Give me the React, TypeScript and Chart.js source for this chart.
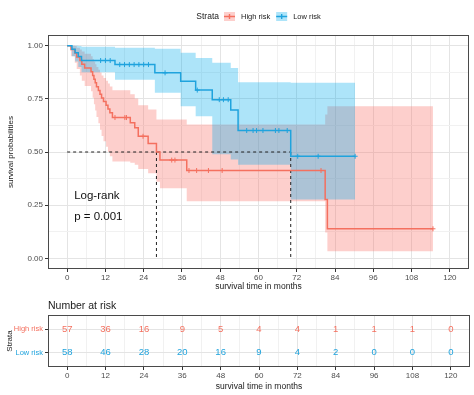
import React, { useEffect, useRef } from "react";
import { Chart, registerables } from "chart.js";

Chart.register(...registerables);

const FONT = '"Liberation Sans", Arial, sans-serif';

// ---------- data ----------
const strata = ["High risk", "Low risk"];
const lineColors = ["#F4705F", "#1FA3DD"];
const bandColors = ["rgba(248,118,109,0.35)", "rgba(0,170,235,0.32)"];

const highTime = [0, 1.2, 2.4, 3.0, 4.0, 4.6, 5.5, 7.5, 8.0, 8.4, 8.8, 9.2, 9.8, 10.3, 10.8, 11.4, 12.2, 12.8, 13.4, 14.2, 19.8, 21.2, 22.3, 25.4, 28.0, 29.1, 37.5, 80.9, 81.6, 114.7];
const highSurv = [1.0, 0.982, 0.965, 0.947, 0.93, 0.912, 0.895, 0.877, 0.86, 0.842, 0.825, 0.807, 0.789, 0.772, 0.754, 0.737, 0.72, 0.702, 0.684, 0.662, 0.638, 0.614, 0.574, 0.54, 0.5, 0.462, 0.413, 0.277, 0.139, 0.139];
const highUpper = [1.0, 1.0, 0.998, 0.99, 0.982, 0.972, 0.962, 0.95, 0.937, 0.925, 0.912, 0.9, 0.887, 0.874, 0.86, 0.848, 0.835, 0.822, 0.808, 0.79, 0.772, 0.752, 0.72, 0.7, 0.653, 0.653, 0.629, 0.676, 0.715, 0.715];
const highLower = [1.0, 0.95, 0.92, 0.89, 0.86, 0.835, 0.81, 0.785, 0.755, 0.725, 0.695, 0.665, 0.635, 0.605, 0.575, 0.55, 0.525, 0.5, 0.48, 0.455, 0.45, 0.44, 0.42, 0.4, 0.36, 0.33, 0.269, 0.122, 0.034, 0.034];
const highCensor = [15.0, 18.1, 18.6, 23.8, 32.8, 33.8, 38.2, 40.6, 44.3, 48.6, 79.6, 114.7];

const lowTime = [0, 1.5, 2.5, 3.5, 4.5, 15.0, 27.5, 35.6, 40.3, 45.5, 51.3, 53.6, 70.1, 90.3];
const lowSurv = [1.0, 0.983, 0.966, 0.949, 0.93, 0.911, 0.872, 0.832, 0.791, 0.746, 0.697, 0.601, 0.48, 0.48];
const lowUpper = [1.0, 1.0, 1.0, 0.998, 0.995, 0.99, 0.985, 0.966, 0.942, 0.919, 0.895, 0.828, 0.825, 0.825];
const lowLower = [1.0, 0.95, 0.925, 0.9, 0.875, 0.84, 0.778, 0.715, 0.668, 0.49, 0.465, 0.44, 0.277, 0.277];
const lowCensor = [10.5, 12.0, 13.5, 16.5, 18.0, 19.5, 21.0, 22.5, 24.0, 25.5, 30.7, 40.8, 47.7, 49.0, 50.5, 56.3, 58.3, 59.4, 61.4, 65.3, 66.4, 69.0, 72.3, 78.7, 90.3];

const riskTimes = [0, 12, 24, 36, 48, 60, 72, 84, 96, 108, 120];
const riskHigh = [57, 36, 16, 9, 5, 4, 4, 1, 1, 1, 0];
const riskLow = [58, 46, 28, 20, 16, 9, 4, 2, 0, 0, 0];

const xTicks = [0, 12, 24, 36, 48, 60, 72, 84, 96, 108, 120];
const yTicks = [0, 0.25, 0.5, 0.75, 1];
const testLines = ["Log-rank", "p = 0.001"];
const testAt = { x: 2.2, y: [0.296, 0.197] };

// ---------- helpers ----------
const GRID_MAJOR = "#E4E4E4";
const GRID_MINOR = "#F1F1F1";
const TICK_MARK = "#333333";
const TICK_TEXT = "#4D4D4D";

const withMinor = (arr: number[]) => {
  const out: number[] = [];
  arr.forEach((v, i) => {
    out.push(v);
    if (i < arr.length - 1) out.push((v + arr[i + 1]) / 2);
  });
  return out;
};
const xAll = withMinor(xTicks);
const yAll = withMinor(yTicks);
const isIn = (arr: number[], v: any) => typeof v === "number" && arr.some((a) => Math.abs(a - v) < 1e-6);

const pts = (t: number[], v: number[]) => t.map((x, i) => ({ x, y: v[i] }));
const stepAt = (t: number[], v: number[], x: number) => {
  let s = v[0];
  for (let i = 0; i < t.length; i++) if (t[i] <= x) s = v[i];
  return s;
};
const medianOf = (t: number[], v: number[]) => {
  for (let i = 0; i < t.length; i++) if (v[i] <= 0.5) return t[i];
  return null;
};

const groups = [
  { time: highTime, surv: highSurv, upper: highUpper, lower: highLower, censor: highCensor },
  { time: lowTime, surv: lowSurv, upper: lowUpper, lower: lowLower, censor: lowCensor },
];
const riskCounts = [riskHigh, riskLow];

const xScaleBase = (height: number, titlePadBottom: number) => ({
  type: "linear",
  min: -6,
  max: 126,
  afterBuildTicks: (s: any) => {
    s.ticks = xAll.map((v) => ({ value: v }));
  },
  afterFit: (s: any) => {
    s.height = height;
  },
  border: { display: false },
  grid: {
    color: (c: any) => (isIn(xTicks, c.tick && c.tick.value) ? GRID_MAJOR : GRID_MINOR),
    lineWidth: 1,
    tickLength: 3,
    tickColor: (c: any) => (isIn(xTicks, c.tick && c.tick.value) ? TICK_MARK : "rgba(0,0,0,0)"),
  },
  ticks: {
    autoSkip: false,
    maxRotation: 0,
    padding: 1,
    color: TICK_TEXT,
    font: { family: FONT, size: 8 },
    callback: (v: any) => (isIn(xTicks, v) ? String(v) : ""),
  },
  title: {
    display: true,
    text: "survival time in months",
    color: "#1A1A1A",
    font: { family: FONT, size: 8.5 },
    padding: { top: 0, bottom: titlePadBottom },
  },
});

const borderPlugin = {
  id: "panelBorder",
  afterDatasetsDraw(chart: any) {
    const { ctx, chartArea: a } = chart;
    ctx.save();
    ctx.strokeStyle = "#4A4A4A";
    ctx.lineWidth = 1;
    ctx.strokeRect(a.left + 0.5, a.top + 0.5, a.right - a.left - 1, a.bottom - a.top - 1);
    ctx.restore();
  },
};

const legendPlugin = {
  id: "ggLegend",
  afterDraw(chart: any) {
    const { ctx, chartArea } = chart;
    const cy = 16.5;
    ctx.save();
    ctx.textBaseline = "middle";
    ctx.textAlign = "left";
    ctx.font = `8.5px ${FONT}`;
    const titleW = ctx.measureText("Strata").width;
    ctx.font = `7.5px ${FONT}`;
    const labelWs = strata.map((s) => ctx.measureText(s).width);
    const keyW = 11, keyH = 9, gapTitle = 5, gapKey = 6, gapItem = 6;
    const total = titleW + gapTitle + labelWs.reduce((a, w) => a + keyW + gapKey + w, 0) + gapItem * (strata.length - 1);
    let x = (chartArea.left + chartArea.right) / 2 - total / 2;
    ctx.fillStyle = "#1A1A1A";
    ctx.font = `8.5px ${FONT}`;
    ctx.fillText("Strata", x, cy);
    x += titleW + gapTitle;
    strata.forEach((s, i) => {
      ctx.fillStyle = bandColors[i];
      ctx.fillRect(x, cy - keyH / 2, keyW, keyH);
      ctx.strokeStyle = lineColors[i];
      ctx.lineWidth = 1.4;
      ctx.beginPath();
      ctx.moveTo(x, cy);
      ctx.lineTo(x + keyW, cy);
      ctx.moveTo(x + keyW / 2, cy - 2.5);
      ctx.lineTo(x + keyW / 2, cy + 2.5);
      ctx.stroke();
      x += keyW + gapKey;
      ctx.fillStyle = "#1A1A1A";
      ctx.font = `7.5px ${FONT}`;
      ctx.fillText(s, x, cy);
      x += labelWs[i] + gapItem;
    });
    ctx.restore();
  },
};

const testPlugin = {
  id: "testText",
  afterDatasetsDraw(chart: any) {
    const { ctx, scales } = chart;
    ctx.save();
    ctx.fillStyle = "#111";
    ctx.font = `11.5px ${FONT}`;
    ctx.textBaseline = "middle";
    ctx.textAlign = "left";
    testLines.forEach((t, i) => {
      ctx.fillText(t, scales.x.getPixelForValue(testAt.x), scales.y.getPixelForValue(testAt.y[i]));
    });
    ctx.restore();
  },
};

const countPlugin = {
  id: "riskCounts",
  afterDatasetsDraw(chart: any) {
    const { ctx } = chart;
    ctx.save();
    ctx.font = `9.5px ${FONT}`;
    ctx.textAlign = "center";
    ctx.textBaseline = "middle";
    chart.data.datasets.forEach((_: any, k: number) => {
      const meta = chart.getDatasetMeta(k);
      ctx.fillStyle = lineColors[k];
      meta.data.forEach((el: any, i: number) => {
        ctx.fillText(String(riskCounts[k][i]), el.x, el.y);
      });
    });
    ctx.restore();
  },
};

const titlePlugin = {
  id: "tableTitle",
  afterDraw(chart: any) {
    const { ctx, chartArea } = chart;
    ctx.save();
    ctx.font = `10.5px ${FONT}`;
    ctx.fillStyle = "#1A1A1A";
    ctx.textBaseline = "middle";
    ctx.textAlign = "left";
    ctx.fillText("Number at risk", chartArea.left, 11);
    ctx.restore();
  },
};

export default function App() {
  const mainRef = useRef<HTMLCanvasElement>(null);
  const tableRef = useRef<HTMLCanvasElement>(null);

  useEffect(() => {
    const medians = groups.map((g) => medianOf(g.time, g.surv)).filter((m) => m !== null) as number[];
    const maxMed = Math.max(...medians);

    const datasets: any[] = [];
    // confidence bands (red first, blue on top)
    groups.forEach((g, k) => {
      datasets.push({
        data: pts(g.time, g.upper),
        stepped: true,
        borderWidth: 0,
        borderColor: "rgba(0,0,0,0)",
        pointRadius: 0,
        fill: "+1",
        backgroundColor: bandColors[k],
        order: 20 - k * 2,
      });
      datasets.push({
        data: pts(g.time, g.lower),
        stepped: true,
        borderWidth: 0,
        borderColor: "rgba(0,0,0,0)",
        pointRadius: 0,
        fill: false,
        order: 20 - k * 2,
      });
    });
    // median dashed lines
    datasets.push({
      data: [
        { x: 0, y: 0.5 },
        { x: maxMed, y: 0.5 },
      ],
      borderColor: "#222",
      borderWidth: 1,
      borderDash: [3, 3],
      pointRadius: 0,
      fill: false,
      order: 8,
    });
    medians.forEach((m) => {
      datasets.push({
        data: [
          { x: m, y: 0.5 },
          { x: m, y: 0 },
        ],
        borderColor: "#222",
        borderWidth: 1,
        borderDash: [3, 3],
        pointRadius: 0,
        fill: false,
        order: 8,
      });
    });
    // survival curves
    groups.forEach((g, k) => {
      datasets.push({
        data: pts(g.time, g.surv),
        stepped: true,
        borderColor: lineColors[k],
        borderWidth: 1.5,
        pointRadius: 0,
        fill: false,
        order: 5 - k,
      });
    });
    // censor marks
    groups.forEach((g, k) => {
      datasets.push({
        data: g.censor.map((t) => ({ x: t, y: stepAt(g.time, g.surv, t) })),
        showLine: false,
        pointStyle: "cross",
        pointRadius: 2.5,
        pointBorderWidth: 1,
        pointBorderColor: lineColors[k],
        pointBackgroundColor: lineColors[k],
        order: 2 - k,
      });
    });

    const main = new Chart(mainRef.current as HTMLCanvasElement, {
      type: "line",
      data: { datasets },
      options: {
        responsive: false,
        animation: false,
        events: [],
        layout: { padding: { top: 35, right: 4, left: 0, bottom: 0 } },
        plugins: { legend: { display: false }, tooltip: { enabled: false } },
        scales: {
          x: xScaleBase(26, 3) as any,
          y: {
            type: "linear",
            min: -0.05,
            max: 1.05,
            afterBuildTicks: (s: any) => {
              s.ticks = yAll.map((v) => ({ value: v }));
            },
            afterFit: (s: any) => {
              s.width = 48;
            },
            border: { display: false },
            grid: {
              color: (c: any) => (isIn(yTicks, c.tick && c.tick.value) ? GRID_MAJOR : GRID_MINOR),
              lineWidth: 1,
              tickLength: 3,
              tickColor: (c: any) => (isIn(yTicks, c.tick && c.tick.value) ? TICK_MARK : "rgba(0,0,0,0)"),
            },
            ticks: {
              padding: 2,
              color: TICK_TEXT,
              font: { family: FONT, size: 8 },
              callback: (v: any) => (isIn(yTicks, v) ? Number(v).toFixed(2) : ""),
            },
            title: {
              display: true,
              text: "survival probabilities",
              color: "#1A1A1A",
              font: { family: FONT, size: 8 },
              padding: { top: 6, bottom: 0 },
            },
          } as any,
        },
      },
      plugins: [borderPlugin, legendPlugin, testPlugin],
    });

    const table = new Chart(tableRef.current as HTMLCanvasElement, {
      type: "line",
      data: {
        datasets: strata.map((s, k) => ({
          label: s,
          data: riskTimes.map((t) => ({ x: t, y: k + 1 })),
          showLine: false,
          pointRadius: 0,
        })),
      },
      options: {
        responsive: false,
        animation: false,
        events: [],
        layout: { padding: { top: 20, right: 4, left: 0, bottom: 0 } },
        plugins: { legend: { display: false }, tooltip: { enabled: false } },
        scales: {
          x: xScaleBase(28, 3) as any,
          y: {
            type: "linear",
            min: 0.4,
            max: 2.6,
            reverse: true,
            afterBuildTicks: (s: any) => {
              s.ticks = strata.map((_, k) => ({ value: k + 1 }));
            },
            afterFit: (s: any) => {
              s.width = 48;
            },
            border: { display: false },
            grid: { color: GRID_MAJOR, lineWidth: 1, tickLength: 3, tickColor: TICK_MARK },
            ticks: {
              padding: 2,
              color: (c: any) => lineColors[c.index] || TICK_TEXT,
              font: { family: FONT, size: 7.5 },
              callback: (v: any) => strata[Math.round(v) - 1] || "",
            },
            title: {
              display: true,
              text: "Strata",
              color: "#1A1A1A",
              font: { family: FONT, size: 8 },
              padding: { top: 5, bottom: 0 },
            },
          } as any,
        },
      },
      plugins: [borderPlugin, countPlugin, titlePlugin],
    });

    return () => {
      main.destroy();
      table.destroy();
    };
  }, []);

  return (
    <div style={{ position: "fixed", left: 0, top: 0, width: 474, height: 395, background: "#ffffff" }}>
      <canvas ref={mainRef} width={474} height={295} style={{ position: "absolute", left: 0, top: 0, display: "block" }} />
      <canvas ref={tableRef} width={474} height={100} style={{ position: "absolute", left: 0, top: 295, display: "block" }} />
    </div>
  );
}
